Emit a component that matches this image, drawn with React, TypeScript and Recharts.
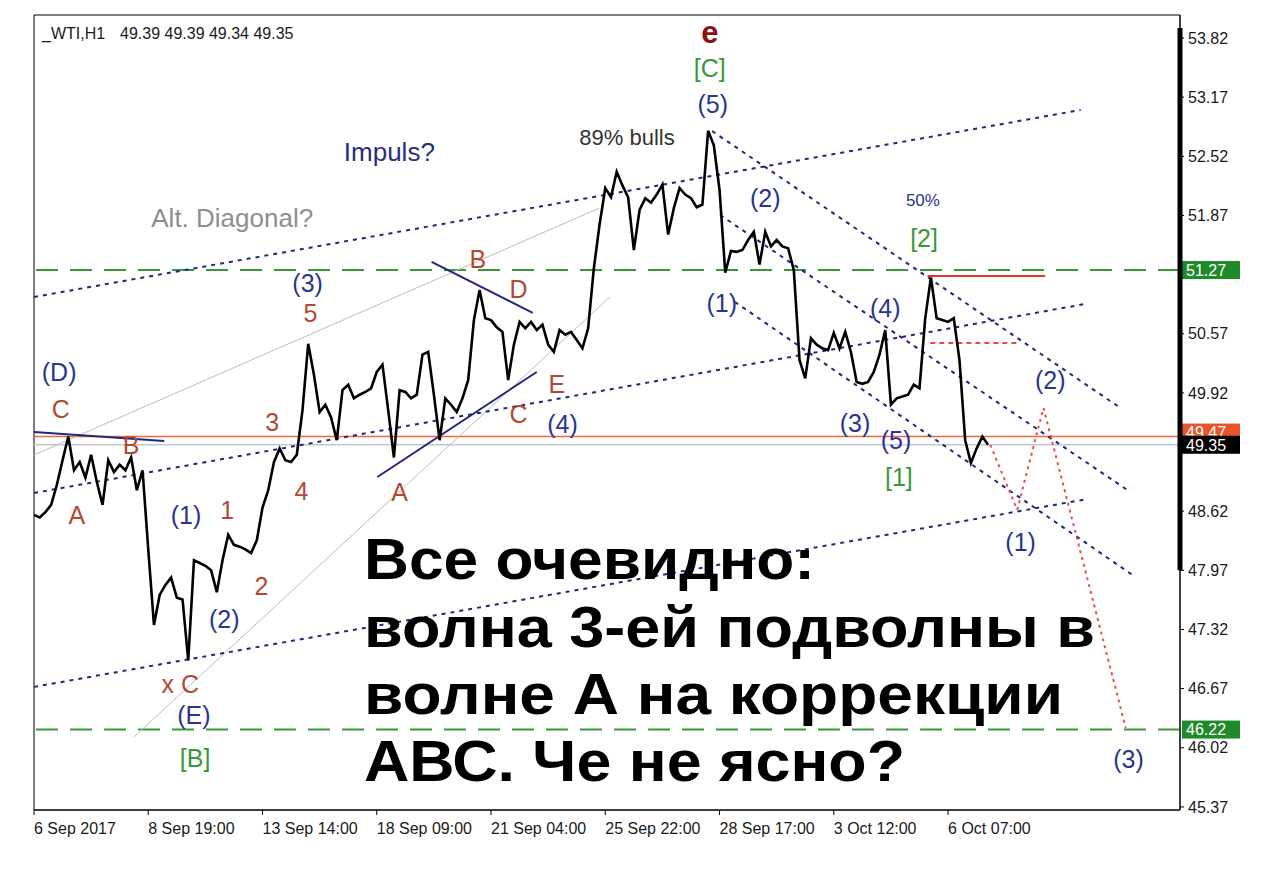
import React from 'react';
import { ComposedChart, Line, Scatter, XAxis, YAxis, ReferenceLine, ReferenceArea } from 'recharts';

// time axis: one unit ~ a couple of H1 bars, a date label every 20 units
const dateTicks = [0, 20, 40, 60, 80, 100, 120, 140, 160];
const dateLabels = ['6 Sep 2017', '8 Sep 19:00', '13 Sep 14:00', '18 Sep 09:00', '21 Sep 04:00', '25 Sep 22:00', '28 Sep 17:00', '3 Oct 12:00', '6 Oct 07:00'];
const priceTicks = [53.82, 53.17, 52.52, 51.87, 50.57, 49.92, 48.62, 47.97, 47.32, 46.67, 46.02, 45.37];

// WTI H1
const wtiPrice = [
  48.58, 48.55, 48.61, 48.69, 48.91, 49.18, 49.44, 49.07, 49.16, 48.99,
  49.24, 48.94, 48.69, 49.18, 49.05, 49.13, 49.07, 49.21, 48.85, 49.07,
  48.20, 47.37, 47.70, 47.81, 47.89, 47.67, 47.65, 46.98, 48.08, 48.05,
  48.02, 47.97, 47.73, 48.08, 48.36, 48.25, 48.23, 48.20, 48.16, 48.30,
  48.66, 48.85, 49.16, 49.31, 49.18, 49.16, 49.24, 49.73, 50.46, 50.12,
  49.71, 49.79, 49.65, 49.40, 49.95, 50.01, 49.86, 49.90, 49.93, 49.97,
  50.15, 50.23, 49.73, 49.21, 49.95, 49.93, 49.86, 49.90, 50.34, 50.37,
  49.90, 49.40, 49.86, 49.79, 49.71, 49.86, 50.06, 50.72, 51.05, 50.74,
  50.72, 50.64, 50.59, 50.06, 50.45, 50.70, 50.63, 50.70, 50.61, 50.67,
  50.45, 50.37, 50.61, 50.56, 50.59, 50.50, 50.41, 50.63, 51.29, 51.77,
  52.17, 52.07, 52.35, 52.20, 52.07, 51.49, 51.93, 52.06, 52.01, 52.10,
  52.21, 51.66, 51.95, 52.17, 52.10, 52.06, 51.96, 51.99, 52.80, 52.64,
  52.15, 51.24, 51.48, 51.47, 51.49, 51.60, 51.69, 51.33, 51.69, 51.53,
  51.60, 51.53, 51.51, 51.27, 50.28, 50.08, 50.52, 50.45, 50.41, 50.39,
  50.58, 50.41, 50.59, 50.37, 50.04, 50.02, 50.04, 50.15, 50.34, 50.61,
  49.79, 49.86, 49.88, 49.90, 50.01, 49.97, 50.74, 51.19, 50.74, 50.72,
  50.70, 50.74, 50.28, 49.40, 49.15, 49.31, 49.44, 49.35,
];

// wave counts [text, x, price]
const navyWaves: [string, number, number][] = [
  ['(D)', 4.4, 50.15], ['(1)', 26.6, 48.57], ['(2)', 33.3, 47.43], ['(E)', 28.0, 46.38],
  ['(3)', 47.9, 51.13], ['(4)', 92.5, 49.57], ['(5)', 118.8, 53.09], ['(2)', 128.0, 52.06],
  ['(1)', 120.4, 50.9], ['(4)', 149.0, 50.85], ['(3)', 143.7, 49.59], ['(5)', 150.9, 49.4],
  ['(2)', 177.9, 50.06], ['(1)', 172.7, 48.28], ['(3)', 191.6, 45.89],
];
const brownWaves: [string, number, number][] = [
  ['C', 4.7, 49.74], ['B', 17.0, 49.34], ['A', 7.5, 48.58], ['1', 33.8, 48.63], ['2', 39.8, 47.8],
  ['3', 41.7, 49.6], ['4', 46.8, 48.84], ['5', 48.4, 50.79], ['x C', 25.6, 46.72],
  ['B', 77.7, 51.39], ['D', 84.8, 51.06], ['E', 91.5, 50.01], ['C', 84.8, 49.68], ['A', 64.0, 48.83],
];
const greenWaves: [string, number, number][] = [
  ['[C]', 118.3, 53.49], ['[2]', 155.8, 51.62], ['[1]', 151.4, 48.99], ['[B]', 28.2, 45.9],
];

// trend lines [x1, p1, x2, p2]
const channelLines: [number, number, number, number][] = [
  [0, 50.974, 183.2, 53.029],
  [0, 48.82, 184.0, 50.897],
  [0, 46.689, 184.4, 48.754],
  [118.7, 52.798, 190.2, 49.754],
  [120.1, 51.875, 191.9, 48.831],
  [122.7, 50.919, 192.8, 47.897],
];
const grayLines: [number, number, number, number][] = [
  [0, 49.238, 99.0, 51.952],
  [17.5, 46.139, 100.8, 50.974],
];
const triangleLines: [number, number, number, number][] = [
  [69.6, 51.359, 87.3, 50.799],
  [60.1, 48.996, 88.0, 50.15],
  [0, 49.491, 22.8, 49.392],
];
const projection: [number, number][] = [[167.4, 49.348], [172.1, 48.634], [176.7, 49.755], [191.1, 46.238]];

const X_MAX = 200.6;
const FONT = '"Liberation Sans", Arial, sans-serif';
const NAVY = '#2a3590';
const DOTS = '#23267a';
const BROWN = '#b24a33';
const GREEN = '#3a983a';

const chartData = wtiPrice.map((v, i) => ({ x: i, close: v }));
const toMarks = (list: [string, number, number][]) => list.map(([t, x, y]) => ({ t, x, y }));
const dateByTick: Record<number, string> = {};
dateTicks.forEach((t, i) => { dateByTick[t] = dateLabels[i]; });

const waveShape = (color: string, size: number, weight = 'normal') => (props: any) => (
  <text x={props.cx} y={props.cy} dy="0.35em" textAnchor="middle" fill={color} fontSize={size} fontWeight={weight} fontFamily={FONT}>
    {props.payload.t}
  </text>
);

const DateTick = (props: any) => (
  <text x={props.x} y={props.y} dy={16} textAnchor="start" fill="#1a1a1a" fontSize={16} fontFamily={FONT}>
    {dateByTick[props.payload.value]}
  </text>
);

const PriceTag = (props: any) => {
  const { viewBox, bg, fg, text, dy = 0 } = props;
  const left = viewBox.x + viewBox.width + 2;
  const cy = viewBox.y + dy;
  return (
    <g>
      <rect x={left} y={cy - 9} width={58} height={18} fill={bg} />
      <text x={left + 4} y={cy} dy="0.36em" fill={fg} fontSize={16} fontFamily={FONT}>{text}</text>
    </g>
  );
};

const seg = (l: [number, number, number, number]) => [{ x: l[0], y: l[1] }, { x: l[2], y: l[3] }];

export default function App() {
  return (
    <div style={{ position: 'absolute', left: 0, top: 0, width: 1280, height: 874, background: '#fff' }}>
      <ComposedChart width={1280} height={874} data={chartData} margin={{ top: 15, right: 0, bottom: 0, left: 34 }}>
        <XAxis
          dataKey="x"
          type="number"
          domain={[0, X_MAX]}
          allowDataOverflow
          ticks={dateTicks}
          tick={<DateTick />}
          tickSize={5}
          tickMargin={3}
          height={64}
          axisLine={{ stroke: '#000' }}
          tickLine={{ stroke: '#000' }}
        />
        <YAxis
          orientation="right"
          type="number"
          domain={[45.336, 54.073]}
          allowDataOverflow
          ticks={priceTicks}
          width={100}
          tickSize={4}
          tickMargin={4}
          axisLine={{ stroke: '#000' }}
          tickLine={{ stroke: '#000' }}
          tick={{ fill: '#1a1a1a', fontSize: 16, fontFamily: FONT }}
        />
        <ReferenceArea x1={0} x2={X_MAX} y1={45.336} y2={54.073} fill="none" stroke="#000" strokeWidth={1} />

        <ReferenceLine y={51.27} stroke={GREEN} strokeWidth={2} strokeDasharray="22 12"
          label={(p: any) => <PriceTag {...p} bg="#1f8a2a" fg="#fff" text="51.27" />} />
        <ReferenceLine y={46.22} stroke={GREEN} strokeWidth={2} strokeDasharray="22 12"
          label={(p: any) => <PriceTag {...p} bg="#1f8a2a" fg="#fff" text="46.22" />} />
        <ReferenceLine y={49.44} stroke="#ee6a3c" strokeWidth={1.5}
          label={(p: any) => <PriceTag {...p} bg="#e8552a" fg="#fff" text="49.47" dy={-4} />} />
        <ReferenceLine y={49.35} stroke="#c4c8d0" strokeWidth={1.5}
          label={(p: any) => <PriceTag {...p} bg="#000" fg="#fff" text="49.35" />} />

        {grayLines.map((l, i) => (
          <ReferenceLine key={`g${i}`} segment={seg(l)} stroke="#bdbdbd" strokeWidth={1} />
        ))}
        {channelLines.map((l, i) => (
          <ReferenceLine key={`c${i}`} segment={seg(l)} stroke={DOTS} strokeWidth={2} strokeDasharray="4 5" />
        ))}
        {triangleLines.map((l, i) => (
          <ReferenceLine key={`t${i}`} segment={seg(l)} stroke={DOTS} strokeWidth={2} />
        ))}
        <ReferenceLine segment={[{ x: 156.4, y: 51.205 }, { x: 177.0, y: 51.205 }]} stroke="#e83030" strokeWidth={2} />
        <ReferenceLine segment={[{ x: 156.9, y: 50.469 }, { x: 172.3, y: 50.469 }]} stroke="#e84848" strokeWidth={2} strokeDasharray="5 4" />
        {projection.slice(1).map((pt, i) => (
          <ReferenceLine key={`p${i}`} segment={[{ x: projection[i][0], y: projection[i][1] }, { x: pt[0], y: pt[1] }]}
            stroke="#e85050" strokeWidth={2} strokeDasharray="3 4" />
        ))}
        <ReferenceLine segment={[{ x: X_MAX, y: 53.93 }, { x: X_MAX, y: 47.97 }]} stroke="#000" strokeWidth={5} ifOverflow="visible" />

        <Line dataKey="close" type="linear" stroke="#000" strokeWidth={2.6} strokeLinejoin="miter" dot={false} isAnimationActive={false} />

        <Scatter data={toMarks(navyWaves)} dataKey="y" shape={waveShape(NAVY, 25)} isAnimationActive={false} />
        <Scatter data={toMarks(brownWaves)} dataKey="y" shape={waveShape(BROWN, 25)} isAnimationActive={false} />
        <Scatter data={toMarks(greenWaves)} dataKey="y" shape={waveShape(GREEN, 25)} isAnimationActive={false} />
        <Scatter data={[{ t: 'e', x: 118.3, y: 53.88 }]} dataKey="y" shape={waveShape('#8c1212', 31, 'bold')} isAnimationActive={false} />
        <Scatter data={[{ t: 'Impuls?', x: 62.2, y: 52.57 }]} dataKey="y" shape={waveShape('#2b2d78', 26)} isAnimationActive={false} />
        <Scatter data={[{ t: 'Alt. Diagonal?', x: 34.7, y: 51.84 }]} dataKey="y" shape={waveShape('#8e8e8e', 26)} isAnimationActive={false} />
        <Scatter data={[{ t: '89% bulls', x: 103.8, y: 52.73 }]} dataKey="y" shape={waveShape('#333', 22)} isAnimationActive={false} />
        <Scatter data={[{ t: '50%', x: 155.6, y: 52.04 }]} dataKey="y" shape={waveShape(NAVY, 17)} isAnimationActive={false} />
      </ComposedChart>

      <svg width={1280} height={874} style={{ position: 'absolute', left: 0, top: 0, pointerEvents: 'none' }}>
        <g fill="#1a1a1a" fontSize={16} fontFamily={FONT}>
          <text x={42} y={39}>_WTI,H1</text>
          <text x={120} y={39}>49.39 49.39 49.34 49.35</text>
        </g>
        <g fill="#000" fontSize={57} fontWeight="bold" fontFamily={FONT} lengthAdjust="spacingAndGlyphs">
          <text x={364} y={579} textLength={451} lengthAdjust="spacingAndGlyphs">Все очевидно:</text>
          <text x={364} y={647} textLength={731} lengthAdjust="spacingAndGlyphs">волна 3-ей подволны в</text>
          <text x={364} y={714} textLength={699} lengthAdjust="spacingAndGlyphs">волне А на коррекции</text>
          <text x={364} y={781} textLength={541} lengthAdjust="spacingAndGlyphs">АВС. Че не ясно?</text>
        </g>
      </svg>
    </div>
  );
}
